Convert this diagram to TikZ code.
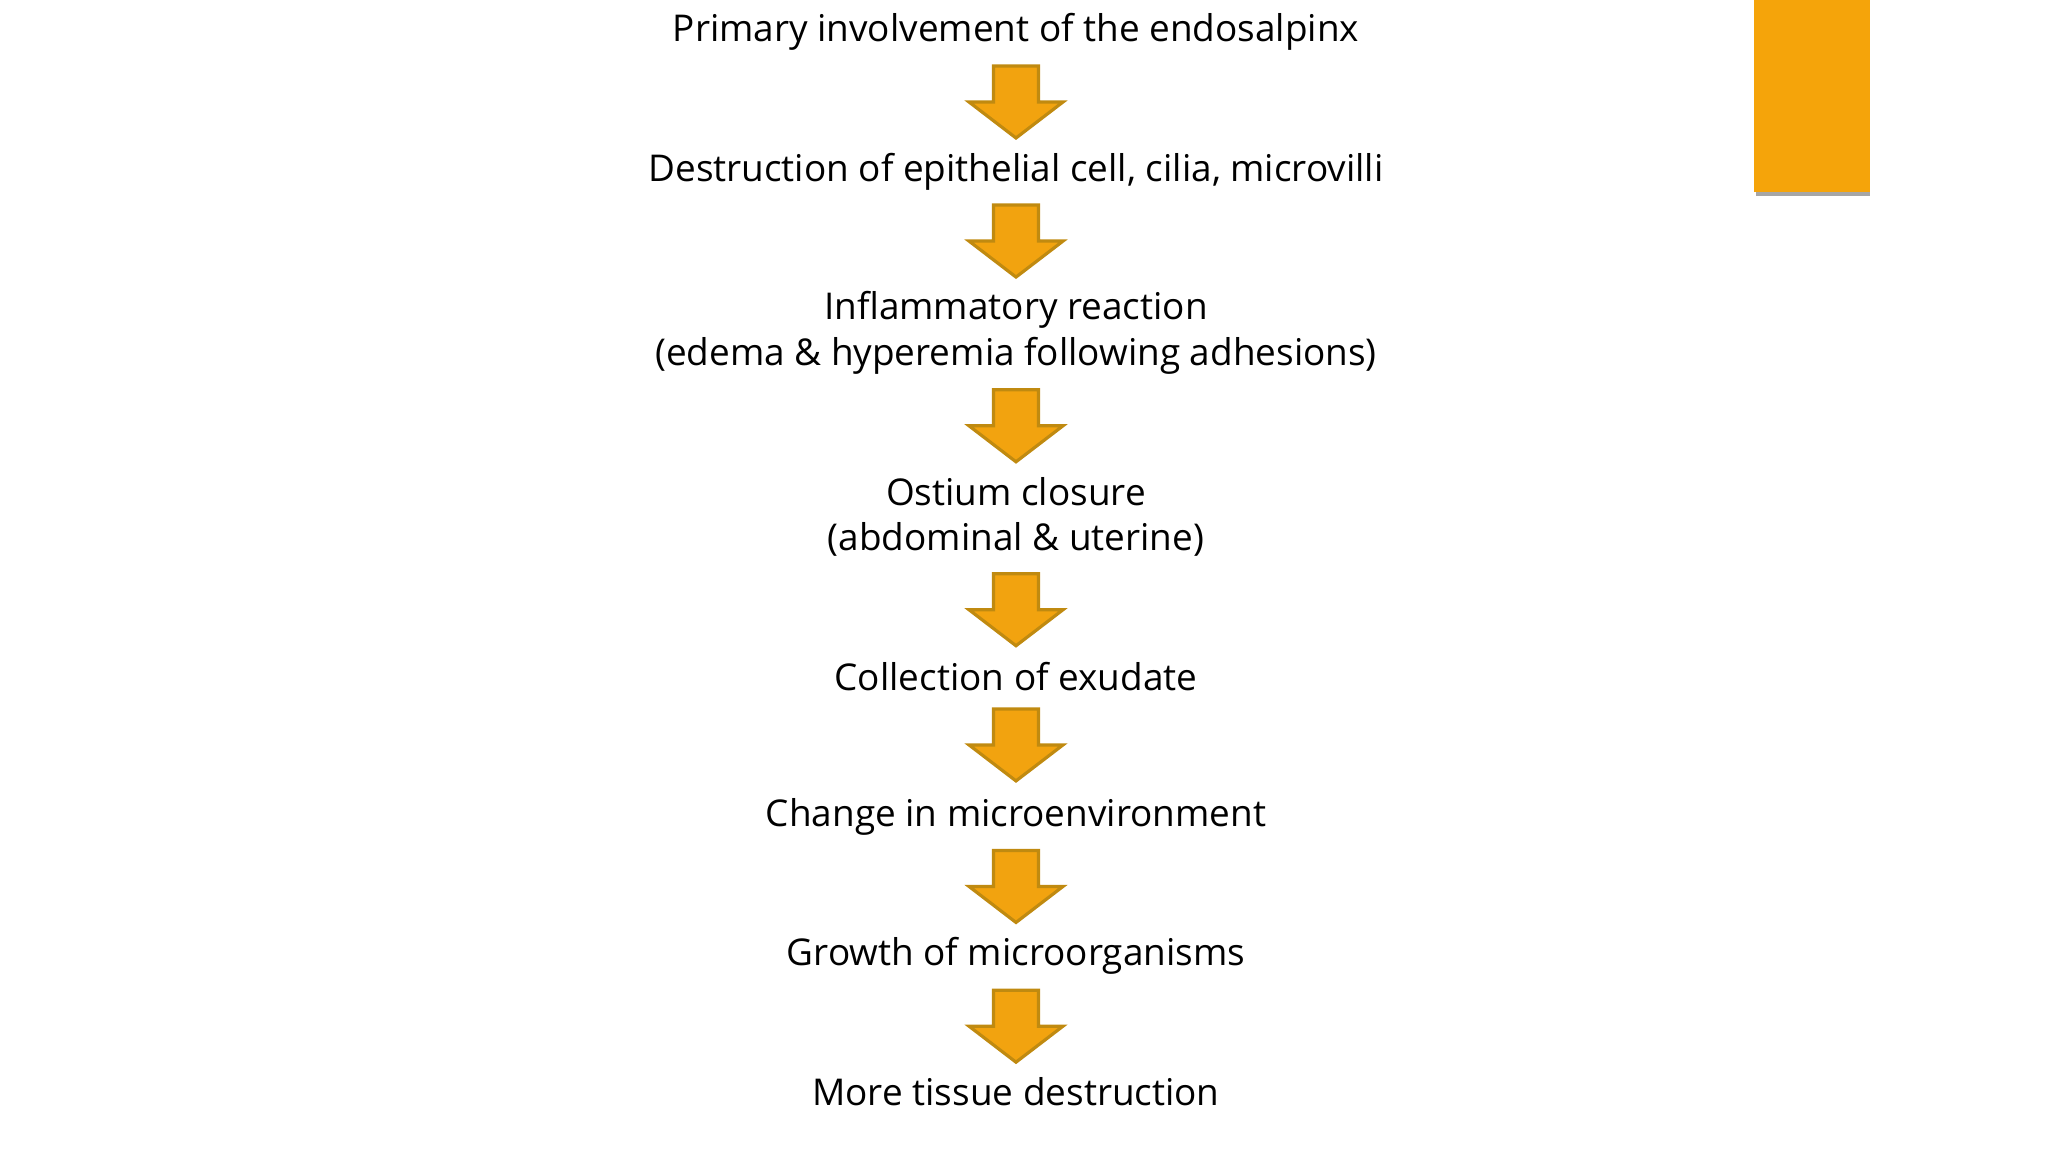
\documentclass[tikz,border=0pt]{standalone}
\usepackage{fontspec}
\setmainfont{Open Sans}
\usetikzlibrary{calc}
\definecolor{arrowfill}{HTML}{F2A30F}
\definecolor{arrowedge}{HTML}{C08A10}
\definecolor{tabfill}{HTML}{F5A40A}

\begin{document}
\begin{tikzpicture}[stage/.style={align=center, inner sep=0pt, font=\fontsize{10.5}{13}\selectfont},
  pics/flowarrow/.style={code={\draw[fill=arrowfill, draw=arrowedge, line width=.9pt, line join=miter] (-.225,.36)--(.225,.36)--(.225,0)--(.47,0)--(0,-.36)--(-.47,0)--(-.225,0)--cycle;}}]
\useasboundingbox (0,0) rectangle (20.48,-11.52);
\fill[gray!70] (17.56,-1.90) rectangle (18.70,-1.96);
\fill[tabfill] (17.54,0) rectangle (18.70,-1.92);
\node[stage] (s1) at (10.16,-.32) {Primary involvement of the endosalpinx};
\node[stage] (s2) at (10.16,-1.72) {Destruction of epithelial cell, cilia, microvilli};
\node[stage] (s3) at (10.16,-3.33) {Inflammatory reaction\\(edema \& hyperemia following adhesions)};
\node[stage] (s4) at (10.16,-5.17) {Ostium closure\\(abdominal \& uterine)};
\node[stage] (s5) at (10.16,-6.77) {Collection of exudate};
\node[stage] (s6) at (10.16,-8.17) {Change in microenvironment};
\node[stage] (s7) at (10.16,-9.56) {Growth of microorganisms};
\node[stage] (s8) at (10.16,-10.92) {More tissue destruction};
\foreach \a/\b in {s1/s2,s2/s3,s3/s4,s4/s5,s5/s6,s6/s7,s7/s8}
  \pic at ($(\a.south)!.5!(\b.north)$) {flowarrow};
\end{tikzpicture}
\end{document}
